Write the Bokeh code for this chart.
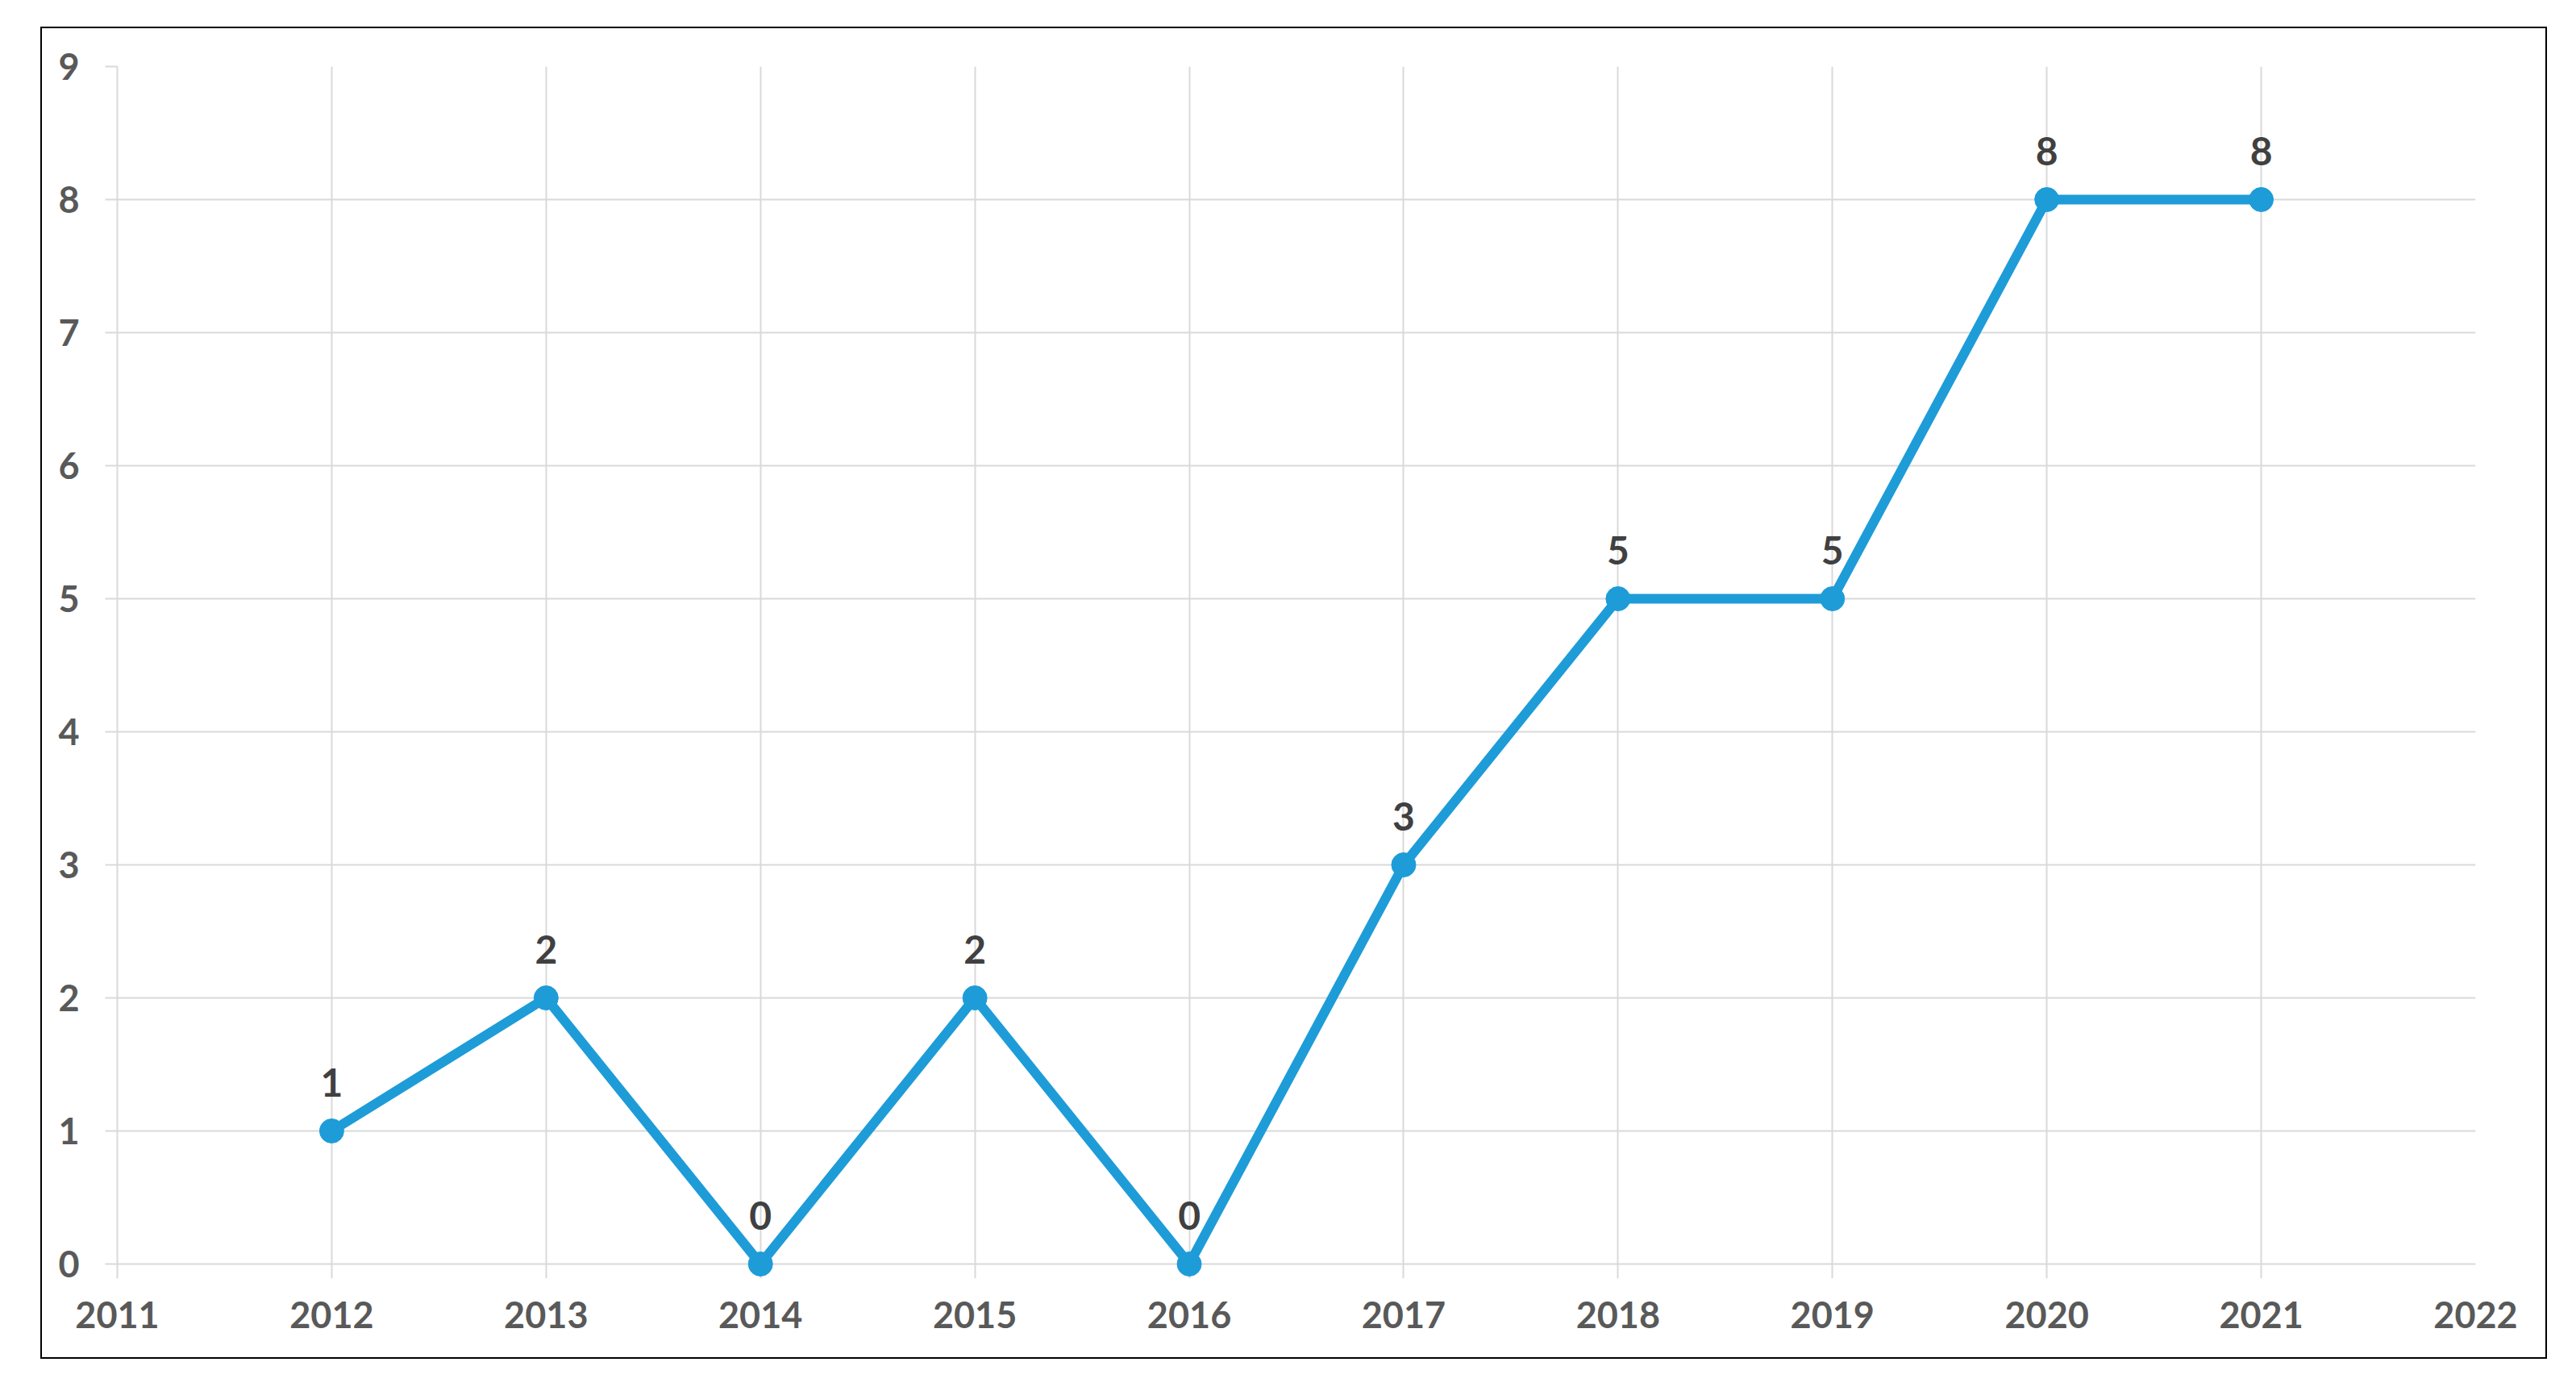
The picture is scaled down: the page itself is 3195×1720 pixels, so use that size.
from bokeh.plotting import figure
from bokeh.models import FixedTicker, ColumnDataSource
from bokeh.core.properties import value
from bokeh.embed import file_html
from bokeh.resources import INLINE

years = [2012, 2013, 2014, 2015, 2016, 2017, 2018, 2019, 2020, 2021]
counts = [1, 2, 0, 2, 0, 3, 5, 5, 8, 8]
x_ticks = list(range(2011, 2023))
y_ticks = list(range(0, 10))

LINE = "#1E9CD8"
GRID = "#D9D9D9"
FONT = "Lato"

# frame bottom sits 18px below y=0 so the vertical grid lines form the x tick marks
p = figure(width=3109, height=1652, output_backend="svg", toolbar_location=None,
           x_range=(2011, 2022), y_range=(-18 / 165, 9),
           min_border_left=93, min_border_right=91, min_border_top=47, min_border_bottom=102)
p.margin = (33, 0, 0, 50)
p.styles = {"border": "2px solid #000000"}
p.outline_line_color = None
p.background_fill_color = "white"
p.border_fill_color = "white"

for ax in (p.xaxis[0], p.yaxis[0]):
    ax.axis_line_color = GRID
    ax.axis_line_width = 2
    ax.major_tick_line_color = GRID
    ax.major_tick_line_width = 2
    ax.major_tick_in = 0
    ax.minor_tick_line_color = None
    ax.major_label_text_font = FONT
    ax.major_label_text_font_style = "bold"
    ax.major_label_text_font_size = "45px"
    ax.major_label_text_color = "#595959"

p.xaxis[0].ticker = FixedTicker(ticks=x_ticks)
p.yaxis[0].ticker = FixedTicker(ticks=y_ticks)
p.xaxis[0].axis_line_color = None
p.xaxis[0].major_tick_line_color = None
p.xaxis[0].major_tick_out = 0
p.yaxis[0].major_tick_out = 15
p.xaxis[0].major_label_standoff = 28
p.yaxis[0].major_label_standoff = 32

p.xgrid[0].ticker = FixedTicker(ticks=x_ticks)
p.ygrid[0].ticker = FixedTicker(ticks=y_ticks)
for g in (p.xgrid[0], p.ygrid[0]):
    g.grid_line_color = GRID
    g.grid_line_width = 2

src = ColumnDataSource(dict(x=years, y=counts, t=[str(c) for c in counts]))
p.line("x", "y", source=src, line_color=LINE, line_width=12, line_join="round")
p.scatter("x", "y", source=src, size=30, fill_color=LINE, line_color=LINE)
p.text("x", "y", text="t", source=src, text_font=value(FONT), text_font_style="bold",
       text_font_size="48px", text_color="#404040", text_align="center",
       text_baseline="alphabetic", y_offset=-60)

open("out.html", "w").write(file_html(p, INLINE))
